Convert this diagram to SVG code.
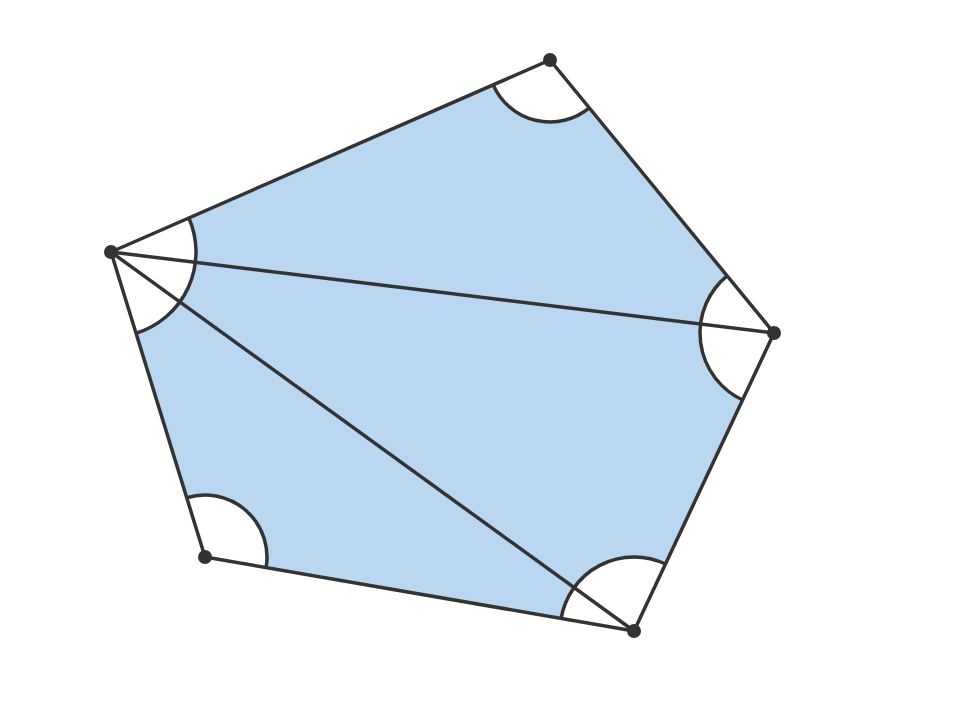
<svg xmlns="http://www.w3.org/2000/svg" width="976" height="703" viewBox="0 0 976 703">
<style>
.fill{fill:#b9d7f1;stroke:none}
.sector{fill:#ffffff;stroke:none}
.arc{fill:none;stroke:#333333;stroke-width:3.5}
.edge{fill:none;stroke:#333333;stroke-width:3.5;stroke-linejoin:round}
.dot{fill:#333333}
</style>
<rect width="976" height="703" fill="#ffffff"/>
<polygon class="fill" points="111,252 550,60 774,333 634,631 205,557"/>
<g id="angles">
<path class="sector" d="M111,252 L188.88,217.94 A85,85 0 0 1 136.03,333.23 Z"/>
<path class="sector" d="M550,60 L493.2,84.84 A62,62 0 0 0 589.33,107.93 Z"/>
<path class="sector" d="M774,333 L742.54,399.98 A74,74 0 0 1 727.06,275.79 Z"/>
<path class="sector" d="M634,631 L561.08,618.42 A74,74 0 0 1 665.46,564.02 Z"/>
<path class="sector" d="M205,557 L186.74,497.75 A62,62 0 0 1 266.09,567.54 Z"/>
<path class="arc" d="M188.88,217.94 A85,85 0 0 1 136.03,333.23"/>
<path class="arc" d="M493.2,84.84 A62,62 0 0 0 589.33,107.93"/>
<path class="arc" d="M742.54,399.98 A74,74 0 0 1 727.06,275.79"/>
<path class="arc" d="M561.08,618.42 A74,74 0 0 1 665.46,564.02"/>
<path class="arc" d="M186.74,497.75 A62,62 0 0 1 266.09,567.54"/>
</g>
<g id="connectors">
<polygon class="edge" points="111,252 550,60 774,333 634,631 205,557"/>
<line class="edge" x1="111" y1="252" x2="774" y2="333"/>
<line class="edge" x1="111" y1="252" x2="634" y2="631"/>
</g>
<g id="A"><circle class="dot" cx="111" cy="252" r="7"/></g>
<g id="B"><circle class="dot" cx="550" cy="60" r="7"/></g>
<g id="C"><circle class="dot" cx="774" cy="333" r="7"/></g>
<g id="D"><circle class="dot" cx="634" cy="631" r="7"/></g>
<g id="E"><circle class="dot" cx="205" cy="557" r="7"/></g>
</svg>
